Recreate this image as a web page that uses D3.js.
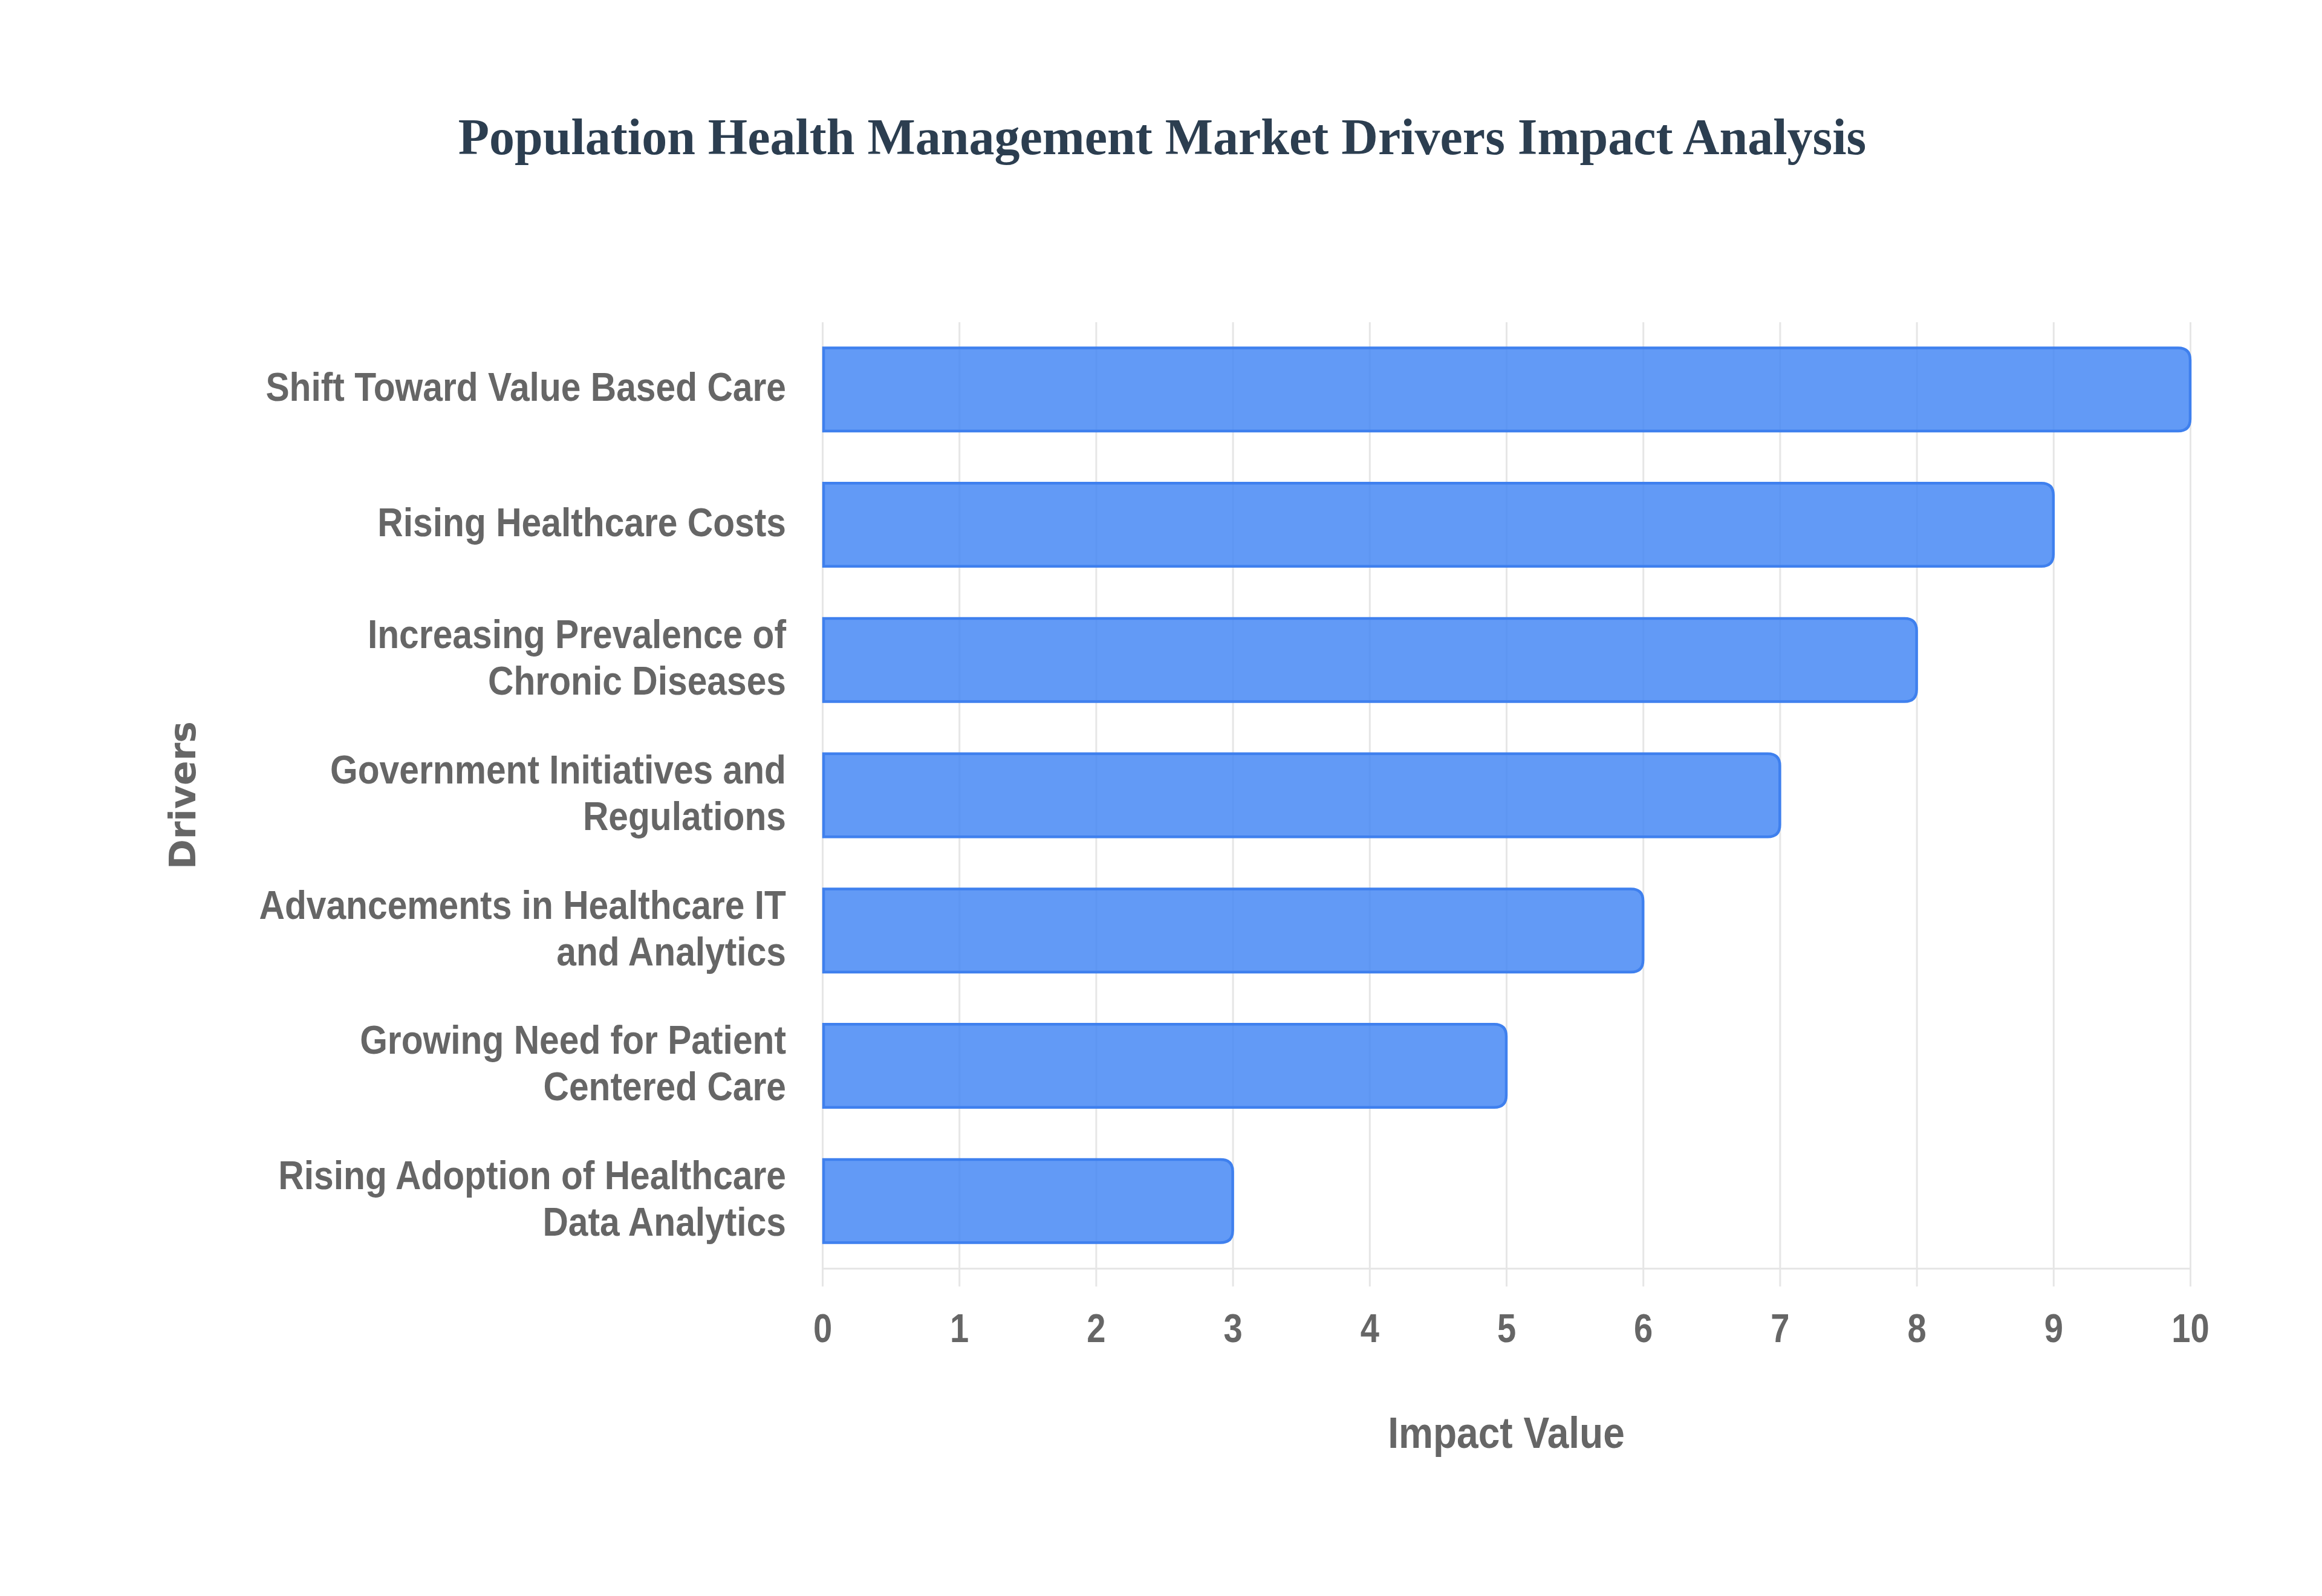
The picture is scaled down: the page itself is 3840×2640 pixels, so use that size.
<!DOCTYPE html>
<html>
<head>
<meta charset="utf-8">
<script src="https://cdn.jsdelivr.net/npm/d3@7"></script>
<style>
body{margin:0;background:#fff;}
</style>
</head>
<body>
<script>
var drivers=["Shift Toward Value Based Care",
"Rising Healthcare Costs",
"Increasing Prevalence of<br>Chronic Diseases",
"Government Initiatives and<br>Regulations",
"Advancements in Healthcare IT<br>and Analytics",
"Growing Need for Patient<br>Centered Care",
"Rising Adoption of Healthcare<br>Data Analytics"];
var impact=[10,9,8,7,6,5,3];
var xTicks=[0,1,2,3,4,5,6,7,8,9,10];

var width=3840;
var height=2640;
var plotLeft=1360, plotRight=3622, plotTop=533, plotBottom=2098;
var gray="#666666";
var sans="'Liberation Sans', Arial, Helvetica, sans-serif";
var squeeze=0.89;

var svg=d3.select("body").append("svg")
.attr("width",width)
.attr("height",height)

var x=d3.scaleLinear().domain([0,10]).range([plotLeft,plotRight]);
var y=d3.scaleBand().domain(drivers).range([plotTop,plotBottom])
.paddingInner(0.385).paddingOuter(0.19);

// grid + ticks
var grid=svg.append("g")
.attr("transform","translate(0,"+plotBottom+")")
.call(d3.axisBottom(x).tickValues(xTicks).tickSizeOuter(0).tickFormat(""))
grid.select(".domain").remove();
grid.selectAll(".tick line").attr("stroke","#e6e6e6").attr("stroke-width",3)
.attr("y1",30).attr("y2",-(plotBottom-plotTop));

var xAxis=svg.append("g")
.attr("transform","translate(0,"+plotBottom+")")
.call(d3.axisBottom(x).tickValues(xTicks).tickSize(0).tickSizeOuter(0))
xAxis.select(".domain").attr("stroke","#e6e6e6").attr("stroke-width",3);
xAxis.selectAll(".tick text")
.attr("y",122)
.attr("dy",null)
.attr("transform","scale(0.85,1)")
.style("font-family",sans)
.style("font-weight","bold")
.style("font-size","66px")
.attr("fill",gray);

var barPath=function(x0,x1,y0,h){
  var r=Math.min(20,(x1-x0)/2);
  return "M"+x0+","+y0+
  "H"+(x1-r)+
  "Q"+x1+","+y0+" "+x1+","+(y0+r)+
  "V"+(y0+h-r)+
  "Q"+x1+","+(y0+h)+" "+(x1-r)+","+(y0+h)+
  "H"+x0+"Z";
}

svg.append("g").selectAll("path")
.data(drivers)
.enter()
.append("path")
.attr("d",function(d,i)
  {return barPath(x(0)+2,x(impact[i]),y(d),y.bandwidth());})
.attr("fill","#4285f4")
.attr("fill-opacity",0.83)
.attr("stroke","#3f80ee")
.attr("stroke-width",4.5)

var yAxis=svg.append("g")
.attr("transform","translate("+plotLeft+",0)")
.call(d3.axisLeft(y).tickSize(0))
yAxis.select(".domain").remove();
yAxis.selectAll(".tick text")
.each(function(d){
  var lines=d.split("<br>");
  var t=d3.select(this).text(null).attr("x",null).attr("dy",null)
  .attr("transform","scale("+squeeze+",1)")
  .style("font-family",sans)
  .style("font-weight","bold")
  .style("font-size","66px")
  .attr("fill",gray)
  .attr("text-anchor","end");
  lines.forEach(function(l,i){
    t.append("tspan")
    .attr("x",-60/squeeze)
    .attr("y",19-(lines.length-1)*38.5+i*77)
    .text(l);
  });
});

svg.append("text")
.text("Population Health Management Market Drivers Impact Analysis")
.attr("x",1922)
.attr("y",255)
.attr("text-anchor","middle")
.style("font-family","'Liberation Serif', 'Times New Roman', serif")
.style("font-weight","bold")
.style("font-size","84px")
.attr("fill","#2c3e50");

svg.append("text")
.text("Impact Value")
.attr("transform","translate("+((plotLeft+plotRight)/2)+",2395) scale(0.89,1)")
.attr("text-anchor","middle")
.style("font-family",sans)
.style("font-weight","bold")
.style("font-size","72px")
.attr("fill",gray);

svg.append("text")
.text("Drivers")
.attr("transform","translate(323,"+((plotTop+plotBottom)/2)+") rotate(-90)")
.attr("text-anchor","middle")
.style("font-family","'DejaVu Sans', Verdana, sans-serif")
.style("font-weight","bold")
.style("font-size","60px")
.attr("fill",gray);
</script>
</body>
</html>
